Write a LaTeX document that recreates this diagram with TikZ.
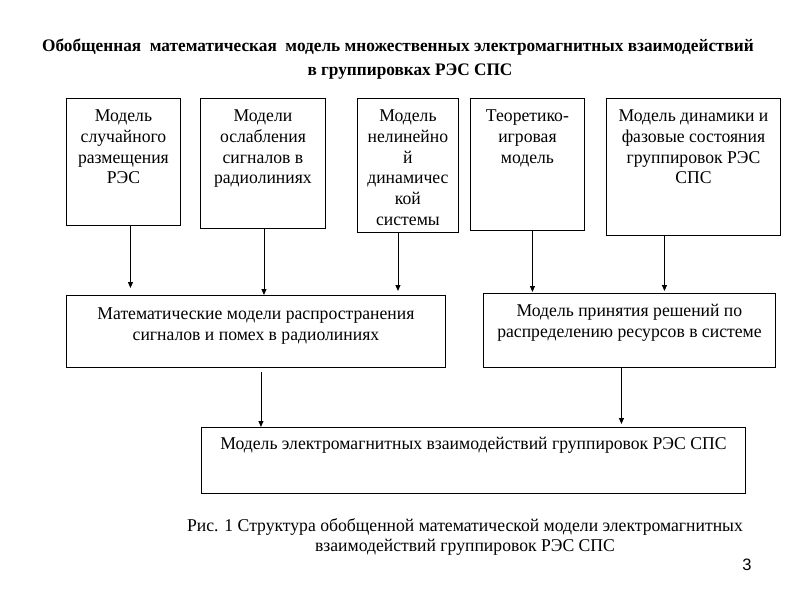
\documentclass[tikz,border=0pt]{standalone}
\usepackage{fontspec}
\setmainfont{Liberation Serif}[FakeStretch=0.98]
\newfontfamily\numfont{Liberation Sans}
\usetikzlibrary{arrows.meta}
\begin{document}
\begin{tikzpicture}[x=1pt,y=-1pt,
  box/.style={draw, line width=0.9pt, inner sep=0pt, anchor=north west},
  txt/.style={align=center, font=\fontsize{18}{20.7}\selectfont, inner sep=0pt, anchor=north},
  ttl/.style={font=\fontsize{17.6}{21}\selectfont\bfseries, inner sep=0pt, anchor=base},
  captxt/.style={font=\fontsize{18}{21}\selectfont, inner sep=0pt, anchor=base},
  arr/.style={line width=0.9pt, -{Triangle[length=6pt,width=5pt]}}]
\useasboundingbox[fill=white] (0,0) rectangle (800,600);

\node[ttl] (title1) at (398,51) {Обобщенная\ \ математическая\ \ модель множественных электромагнитных взаимодействий};
\node[ttl] (title2) at (410,75) {в группировках РЭС СПС};

\node[box, minimum width=114, minimum height=127] (b1) at (66,98) {};
\node[box, minimum width=125, minimum height=130] (b2) at (200,98) {};
\node[box, minimum width=101, minimum height=134] (b3) at (357,98) {};
\node[box, minimum width=114, minimum height=132] (b4) at (470,98) {};
\node[box, minimum width=174, minimum height=137] (b5) at (606,98) {};

\node[txt] (t1) at ([yshift=-11.8pt]b1.north) {Модель\\случайного\\размещения\\РЭС};
\node[txt] (t2) at ([yshift=-11.8pt]b2.north) {Модели\\ослабления\\сигналов в\\радиолиниях};
\node[txt] (t3) at ([yshift=-11.8pt]b3.north) {Модель\\нелинейно\\й\\динамичес\\кой\\системы};
\node[txt] (t4) at ([yshift=-12pt]b4.north) {Теоретико-\\игровая\\модель};
\node[txt] (t5) at ([yshift=-11.8pt]b5.north) {Модель динамики и\\фазовые состояния\\группировок РЭС\\СПС};

\node[box, minimum width=379, minimum height=72] (m1) at (66,295) {};
\node[box, minimum width=292, minimum height=74] (m2) at (483,293) {};
\node[txt] (tm1) at ([yshift=-12.6pt]m1.north) {Математические модели распространения\\сигналов и помех в радиолиниях};
\node[txt] (tm2) at ([yshift=-11.4pt]m2.north) {Модель принятия решений по\\распределению ресурсов в системе};

\node[box, minimum width=544, minimum height=66] (bt) at (201,427) {};
\node[txt] (tbt) at ([yshift=-10pt]bt.north) {Модель электромагнитных взаимодействий группировок РЭС СПС};

\node[captxt] (cap1) at (465,531) {Рис. 1 Структура обобщенной математической модели электромагнитных};
\node[captxt] (cap2) at (465,551) {взаимодействий группировок РЭС СПС};
\node[font=\numfont\fontsize{16.5}{20}\selectfont, inner sep=0pt, anchor=base] (num) at (747,570) {3};

\draw[arr] ([xshift=7pt]b1.south) -- ([xshift=7pt,yshift=7pt]b1.south |- m1.north);
\draw[arr] ([xshift=1pt]b2.south) -- ([xshift=1pt]b2.south |- m1.north);
\draw[arr] ([xshift=-10pt]b3.south) -- ([xshift=-10pt,yshift=4pt]b3.south |- m1.north);
\draw[arr] ([xshift=5pt]b4.south) -- ([xshift=5pt,yshift=1pt]b4.south |- m2.north);
\draw[arr] ([xshift=-29pt]b5.south) -- ([xshift=-29pt,yshift=2pt]b5.south |- m2.north);

\draw[arr] ([xshift=5pt,yshift=-4pt]m1.south) -- ([xshift=5pt]m1.south |- bt.north);
\draw[arr] ([xshift=-8pt]m2.south) -- ([xshift=-8pt,yshift=3pt]m2.south |- bt.north);
\end{tikzpicture}
\end{document}
